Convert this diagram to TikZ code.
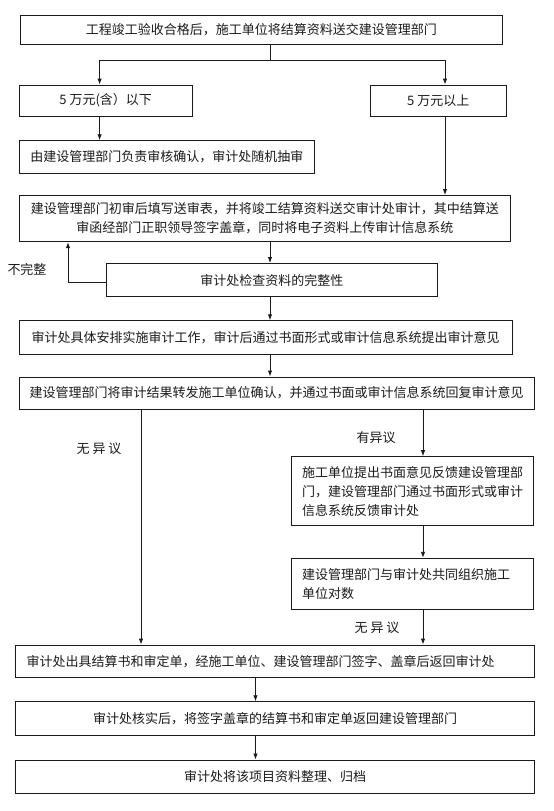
\documentclass[tikz,border=0pt]{standalone}
\usepackage{fontspec}
\setmainfont{Noto Sans CJK SC}
\usepackage{xcolor}
\usepackage{tikz}
\usetikzlibrary{arrows.meta,calc}
\definecolor{ink}{HTML}{1A1A1A}
\tikzset{
  box/.style={draw=ink, line width=1pt, text=ink, font=\fontsize{13}{19}\selectfont, inner sep=0pt, align=center},
  boxLeft/.style={box, align=left, text width=221pt},
  lab/.style={text=ink, font=\fontsize{13}{19}\selectfont},
  flow/.style={draw=ink, line width=0.9pt},
  flowArrow/.style={flow, -{Latex[length=6pt,width=4.5pt]}}
}

\begin{document}
\begin{tikzpicture}[x=1pt,y=-1pt]
\useasboundingbox (0,0) rectangle (554,811);
% top of the flow
\node[box, minimum width=482.5pt, minimum height=29pt] (submit) at (261.3,29.5) {工程竣工验收合格后，施工单位将结算资料送交建设管理部门};
\node[box, minimum width=172.6pt, minimum height=31.3pt] (below) at (105.7,100.7) {5 万元(含）以下};
\node[box, minimum width=135.7pt, minimum height=31.3pt] (above) at (438.2,100.7) {5 万元以上};
\node[box, minimum width=295pt, minimum height=32.3pt] (mgrCheck) at (167,156.9) {由建设管理部门负责审核确认，审计处随机抽审};

% review and completeness check
\node[box, minimum width=490.8pt, minimum height=46.2pt] (firstReview) at (264.8,218.6) {建设管理部门初审后填写送审表，并将竣工结算资料送交审计处审计，其中结算送\\审函经部门正职领导签字盖章，同时将电子资料上传审计信息系统};
\node[box, minimum width=330.3pt, minimum height=33.2pt] (complete) at (271.9,280.1) {审计处检查资料的完整性};
\node[box, minimum width=492.6pt, minimum height=33.3pt] (audit) at (265.7,337.4) {审计处具体安排实施审计工作，审计后通过书面形式或审计信息系统提出审计意见};
\node[box, minimum width=514.6pt, minimum height=32pt] (forward) at (276.7,393) {建设管理部门将审计结果转发施工单位确认，并通过书面或审计信息系统回复审计意见};

% objection branch
\node[boxLeft, minimum width=242.1pt, minimum height=69pt] (objection) at (412.6,491.2) {施工单位提出书面意见反馈建设管理部\\门，建设管理部门通过书面形式或审计\\信息系统反馈审计处};
\node[boxLeft, minimum width=242.1pt, minimum height=51pt] (reconcile) at (412.6,583.8) {建设管理部门与审计处共同组织施工\\单位对数};

% closing steps
\node[box, align=left, text width=497pt, minimum width=518.4pt, minimum height=32.3pt] (settle) at (275.1,661.2) {审计处出具结算书和审定单，经施工单位、建设管理部门签字、盖章后返回审计处};
\node[box, minimum width=518.4pt, minimum height=33.3pt] (returnDoc) at (275.1,718.4) {审计处核实后，将签字盖章的结算书和审定单返回建设管理部门};
\node[box, minimum width=518.4pt, minimum height=33.3pt] (archive) at (275.1,776.7) {审计处将该项目资料整理、归档};

% labels
\node[lab] (incomplete) at (27,269.3) {不完整};
\node[lab] (noObjA) at (99,449) {无 异 议};
\node[lab] (hasObj) at (376,438) {有异议};
\node[lab] (noObjB) at (377,628) {无 异 议};

% connectors
\coordinate (jTop) at (270,60);
\coordinate (bLeft) at (99.6,60);
\coordinate (bRight) at (445,60);
\coordinate (back) at (68,282);
\coordinate (mid) at (270,0);
\coordinate (leftDown) at (141,0);
\coordinate (rightDown) at (423,0);
\coordinate (lowMid) at (255.5,0);
\draw[flow] (submit.south -| jTop) -- (jTop);
\draw[flowArrow] (jTop) -| (bLeft |- below.north);
\draw[flowArrow] (jTop) -| (bRight |- above.north);
\draw[flowArrow] (below.south -| bLeft) -- (mgrCheck.north -| bLeft);
\draw[flowArrow] (above.south -| bRight) -- (firstReview.north -| bRight);
\draw[flowArrow] (firstReview.south -| mid) -- (complete.north -| mid);
\draw[flowArrow] (complete.west |- back) -| (back |- firstReview.south);
\draw[flowArrow] (complete.south -| mid) -- (audit.north -| mid);
\draw[flowArrow] (audit.south -| mid) -- (forward.north -| mid);
\draw[flowArrow] (forward.south -| leftDown) -- (settle.north -| leftDown);
\draw[flowArrow] (forward.south -| rightDown) -- (objection.north -| rightDown);
\draw[flowArrow] (objection.south -| rightDown) -- (reconcile.north -| rightDown);
\draw[flowArrow] (reconcile.south -| rightDown) -- (settle.north -| rightDown);
\draw[flowArrow] (settle.south -| lowMid) -- (returnDoc.north -| lowMid);
\draw[flowArrow] (returnDoc.south -| lowMid) -- (archive.north -| lowMid);
\end{tikzpicture}
\end{document}
